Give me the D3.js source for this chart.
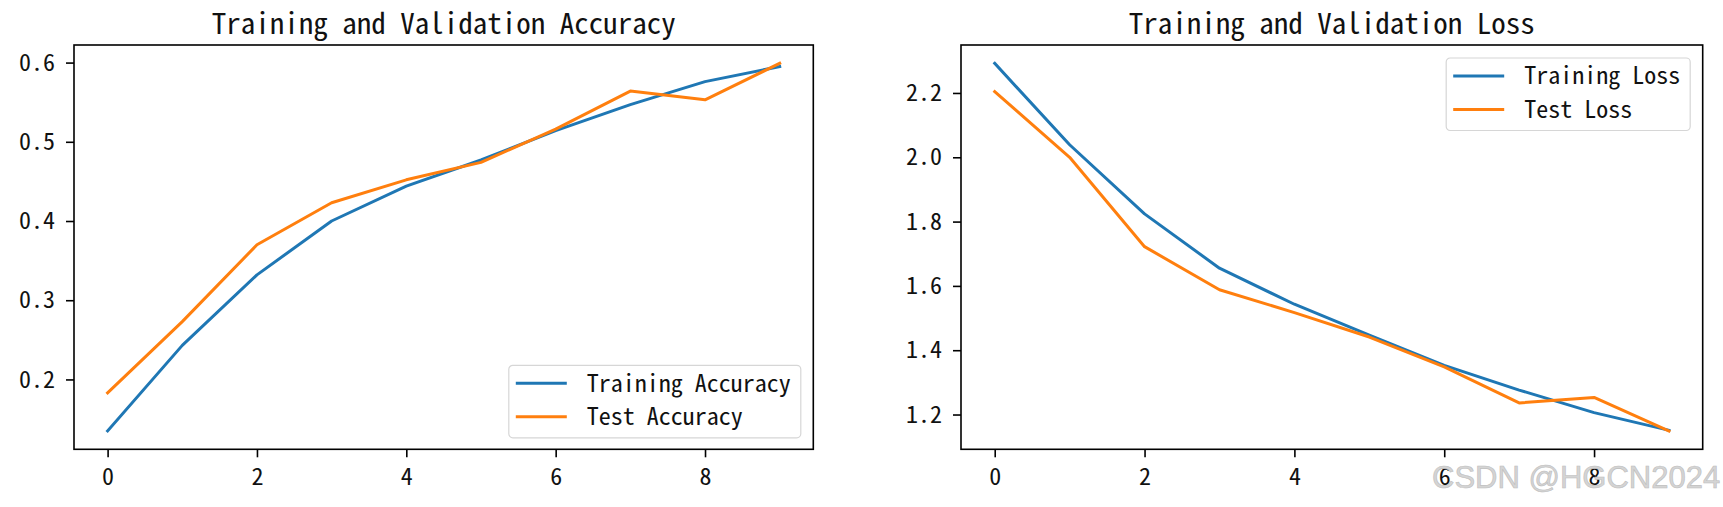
<!DOCTYPE html>
<html>
<head>
<meta charset="utf-8">
<script src="https://cdn.jsdelivr.net/npm/d3@7"></script>
<style>
  html, body { margin: 0; padding: 0; background: #fff; }
  svg { display: block; }
</style>
</head>
<body>
<svg id="chart" width="1723" height="507"></svg>
<script>
// ---- data ----
const epochs = [0, 1, 2, 3, 4, 5, 6, 7, 8, 9];
const trainAcc = [0.135, 0.243, 0.332, 0.400, 0.444, 0.477, 0.514, 0.547, 0.576, 0.595];
const testAcc  = [0.183, 0.273, 0.370, 0.423, 0.452, 0.474, 0.516, 0.564, 0.553, 0.599];
const trainLoss = [2.292, 2.039, 1.824, 1.655, 1.543, 1.447, 1.353, 1.276, 1.206, 1.151];
const testLoss  = [2.204, 2.000, 1.722, 1.588, 1.517, 1.441, 1.348, 1.236, 1.253, 1.149];
const xTicks = [0, 2, 4, 6, 8];
const accTicks = [0.2, 0.3, 0.4, 0.5, 0.6];
const lossTicks = [1.2, 1.4, 1.6, 1.8, 2.0, 2.2];
const titles = ["Training and Validation Accuracy", "Training and Validation Loss"];
const accLabels = ["Training Accuracy", "Test Accuracy"];
const lossLabels = ["Training Loss", "Test Loss"];
const colors = ["#1f77b4", "#ff7f0e"];
const watermark = "CSDN @HGCN2024";

const FONT = "'Noto Sans Mono CJK SC', 'DejaVu Sans Mono', 'Liberation Mono', monospace";
const svg = d3.select("#chart");
svg.append("rect").attr("width", 1723).attr("height", 507).attr("fill", "#fff");

function panel(cfg) {
  const { left, right, top, bottom } = cfg.box;
  const x = d3.scaleLinear().domain([-0.45, 9.45]).range([left, right]);
  const all = cfg.series.flat();
  const lo = d3.min(all), hi = d3.max(all), r = hi - lo;
  const y = d3.scaleLinear().domain([lo - 0.05 * r, hi + 0.05 * r]).range([bottom, top]);
  const g = svg.append("g");

  // lines
  const line = d3.line().x((d, i) => x(epochs[i])).y(d => y(d));
  cfg.series.forEach((s, k) => {
    g.append("path").datum(s).attr("d", line)
      .attr("fill", "none").attr("stroke", colors[k])
      .attr("stroke-width", 3).attr("stroke-linejoin", "round").attr("stroke-linecap", "square");
  });

  // axes
  const xa = g.append("g").attr("transform", `translate(0,${bottom})`)
    .call(d3.axisBottom(x).tickValues(xTicks).tickFormat(d3.format("d")).tickSize(8).tickPadding(11));
  const ya = g.append("g").attr("transform", `translate(${left},0)`)
    .call(d3.axisLeft(y).tickValues(cfg.ticks).tickFormat(d3.format(".1f")).tickSize(8).tickPadding(11));
  [xa, ya].forEach(a => {
    a.select(".domain").remove();
    a.selectAll(".tick line").attr("stroke", "#000").attr("stroke-width", 1.6);
    a.selectAll(".tick text").attr("fill", "#111").style("font-family", FONT).style("font-size", "24px");
  });

  // frame
  g.append("rect").attr("x", left).attr("y", top).attr("width", right - left).attr("height", bottom - top)
    .attr("fill", "none").attr("stroke", "#000").attr("stroke-width", 1.6);

  // title
  g.append("text").attr("x", (left + right) / 2).attr("y", 34)
    .attr("text-anchor", "middle").style("font-family", FONT).style("font-size", "29px")
    .attr("fill", "#111").text(cfg.title);

  // legend
  const lg = g.append("g");
  const box = lg.append("rect").attr("rx", 4).attr("ry", 4)
    .attr("fill", "#fff").attr("fill-opacity", 0.8).attr("stroke", "#d6d6d6").attr("stroke-width", 1.2);
  const rowGap = 33.4;
  let maxW = 0;
  cfg.labels.forEach((lab, k) => {
    const ly = 18 + k * rowGap;
    lg.append("line").attr("x1", 7).attr("x2", 58).attr("y1", ly).attr("y2", ly)
      .attr("stroke", colors[k]).attr("stroke-width", 3);
    const t = lg.append("text").attr("x", 78).attr("y", ly).attr("dy", "0.35em")
      .style("font-family", FONT).style("font-size", "24px").attr("fill", "#111").text(lab);
    maxW = Math.max(maxW, t.node().getComputedTextLength());
  });
  const bw = 78 + maxW + 10, bh = 72.5;
  box.attr("width", bw).attr("height", bh);
  const bx = right - 12.5 - bw;
  const by = cfg.legendPos === "lower" ? bottom - 11.5 - bh : top + 13;
  lg.attr("transform", `translate(${bx},${by})`);
}

panel({
  box: { left: 74, right: 813.3, top: 45, bottom: 449.3 },
  series: [trainAcc, testAcc], ticks: accTicks, title: titles[0],
  labels: accLabels, legendPos: "lower"
});
panel({
  box: { left: 961, right: 1702.7, top: 45, bottom: 449.3 },
  series: [trainLoss, testLoss], ticks: lossTicks, title: titles[1],
  labels: lossLabels, legendPos: "upper"
});

// watermark
svg.append("text").attr("x", 1432).attr("y", 488)
  .style("font-family", "'Liberation Sans', Arial, sans-serif").style("font-size", "31px")
  .attr("fill", "#d4d4d4").attr("stroke", "#bdbdbd").attr("stroke-width", 0.6)
  .text(watermark);
</script>
</body>
</html>
